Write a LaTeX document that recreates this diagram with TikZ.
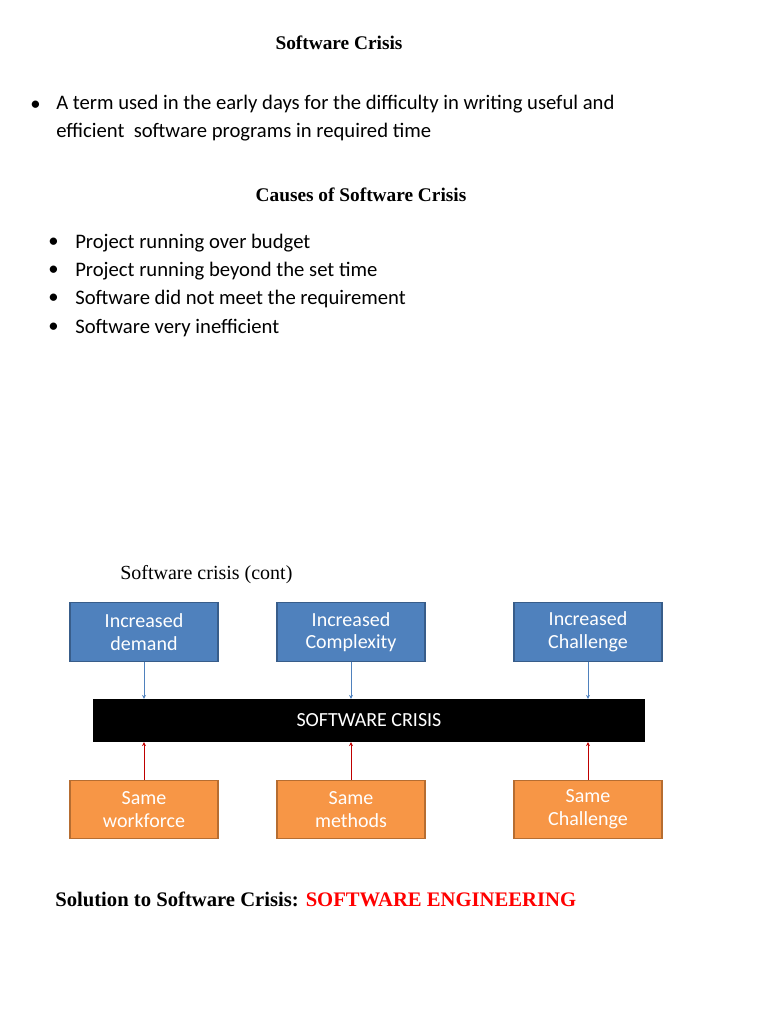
\documentclass[tikz,border=0pt]{standalone}
\usepackage{fontspec}
\usetikzlibrary{arrows.meta}
\setmainfont{Liberation Serif}
\newfontfamily\calfnt{Carlito}
\definecolor{bfill}{HTML}{4F81BD}\definecolor{bdraw}{HTML}{385D8A}
\definecolor{ofill}{HTML}{F79646}\definecolor{odraw}{HTML}{B66D31}
\begin{document}
\begin{tikzpicture}[x=0.75pt,y=-0.75pt,
 bbox/.style={fill=bfill,draw=bdraw,line width=0.8pt,minimum width=111pt,minimum height=44pt,text=white,font=\calfnt\fontsize{15}{17}\selectfont,align=center,inner sep=0pt},
 obox/.style={bbox,fill=ofill,draw=odraw},
 txt/.style={anchor=west,font=\calfnt\fontsize{15.5}{21}\selectfont,inner sep=0pt,align=left},
 head/.style={font=\bfseries\fontsize{14.5}{17}\selectfont,inner sep=0pt}]
\useasboundingbox (0,0) rectangle (768,1024);
\node[head] (h1) at (339,43) {Software Crisis};
\node[txt] (b0) at (30,106) {•};
\node[txt,anchor=north west] (t1) at (56,95) {A term used in the early days for the difficulty in writing useful and\\efficient\ \ software programs in required time};
\node[head] (h2) at (361,195) {Causes of Software Crisis};
\node[txt] (b1) at (48,243) {•};\node[txt] (l1) at (75,243) {Project running over budget};
\node[txt] (b2) at (48,271) {•};\node[txt] (l2) at (75,271) {Project running beyond the set time};
\node[txt] (b3) at (48,299) {•};\node[txt] (l3) at (75,299) {Software did not meet the requirement};
\node[txt] (b4) at (48,328) {•};\node[txt] (l4) at (75,328) {Software very inefficient};
\node[anchor=west,inner sep=0pt,font=\fontsize{15}{17}\selectfont] (h3) at (120,575) {Software crisis (cont)};
\node[bbox] (u1) at (144,632) {Increased\\demand};
\node[bbox] (u2) at (351,632) {Increased\\Complexity};
\node[bbox] (u3) at (588,632) {Increased\\Challenge};
\node[fill=black,minimum width=414pt,minimum height=32pt,inner sep=0pt,text=white,font=\calfnt\fontsize{15}{17}\selectfont] (sc) at (369,720.5) {SOFTWARE CRISIS};
\node[obox] (d1) at (144,809.5) {Same\\workforce};
\node[obox] (d2) at (351,809.5) {Same\\methods};
\node[obox] (d3) at (588,809.5) {Same\\Challenge};
\foreach \a in {1,2,3}{
 \draw[bfill,-{Stealth[length=3pt,width=3pt]},line width=0.6pt] (u\a.south) -- (u\a.south |- sc.north);
 \draw[red!75!black,-{Stealth[length=3pt,width=3pt]},line width=0.6pt] (d\a.north) -- (d\a.north |- sc.south);}
\node[anchor=west,inner sep=0pt,font=\bfseries\fontsize{15.5}{18}\selectfont] (sol) at (55,899) {Solution to Software Crisis: \textcolor{red}{SOFTWARE ENGINEERING}};
\end{tikzpicture}
\end{document}
